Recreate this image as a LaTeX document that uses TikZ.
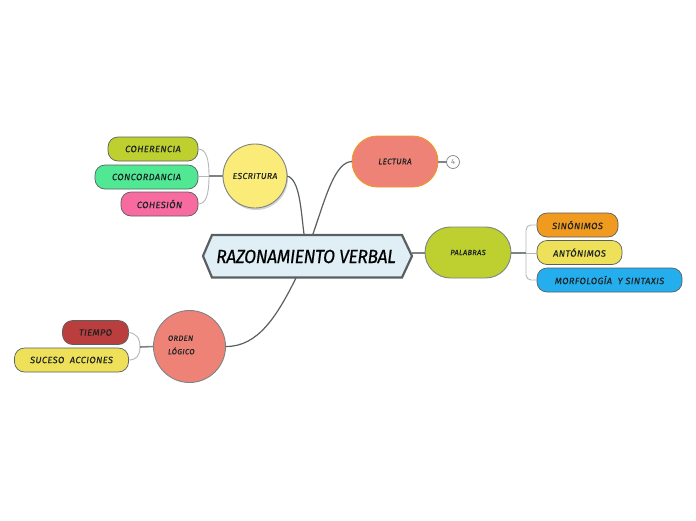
\documentclass[tikz,border=0pt]{standalone}
\usepackage{fontspec}
\setmainfont{Fira Sans}
\usetikzlibrary{shapes.misc,shadows,calc}
\definecolor{txt}{HTML}{1E2424}
\definecolor{edge}{HTML}{5A6060}
\definecolor{soft}{HTML}{B4B8B8}
\definecolor{mid}{HTML}{7E8484}
\definecolor{cyan}{HTML}{E0EEF5}
\definecolor{lime}{HTML}{BDD02F}
\definecolor{salmon}{HTML}{EE8277}
\definecolor{butter}{HTML}{FBEB78}
\definecolor{mustard}{HTML}{EFE05A}
\definecolor{mint}{HTML}{50E893}
\definecolor{rose}{HTML}{F76BA0}
\definecolor{amber}{HTML}{F09A20}
\definecolor{sky}{HTML}{25AEEE}
\definecolor{brick}{HTML}{BB3E3E}
\newcommand{\lab}[1]{{\itshape\addfontfeature{LetterSpace=4.5,FakeBold=0.3}#1}}
\tikzset{
  x=1pt,y=-1pt,
  every node/.style={text=txt,inner sep=0pt,outer sep=0pt},
  leafbox/.style={draw=edge,line width=.7pt,rounded corners=10pt,font=\fontsize{9.2}{11}\selectfont},
  mainpill/.style={rounded rectangle,draw=mid,line width=.9pt,font=\fontsize{8}{10}\selectfont},
  bubble/.style={circle,draw=mid,line width=.9pt},
  linkdark/.style={draw=edge,line width=1.2pt},
  linkthick/.style={draw=mid,line width=1.6pt},
  linksoft/.style={draw=soft,line width=.9pt},
}
\begin{document}
\begin{tikzpicture}
\useasboundingbox[fill=white] (0,0) rectangle (696,520);
\coordinate (escj) at (209,176);
\coordinate (ordj) at (140,347);
\coordinate (palj) at (526,253);
% central
\coordinate (hexW) at (203,256);
\coordinate (hexE) at (412,256);
\draw[draw=edge,line width=2.2pt,fill=cyan,line join=miter]
  (hexW) -- (212,235) -- (402,235) -- (hexE) -- (402,277.5) -- (212,277.5) -- cycle;
\node[font=\fontsize{19}{22}\selectfont\itshape\addfontfeature{LetterSpace=-2,FakeBold=0.5},text=black] (root) at (306,256.5) {\scalebox{0.92}[1]{RAZONAMIENTO VERBAL}};
\coordinate (rootA) at (304,234);
\coordinate (rootB) at (313,234);
\coordinate (rootC) at (296,278);
\coordinate (rootE) at (412,253);

% main topics
\node[bubble,fill=butter,minimum size=64pt,drop shadow={shadow xshift=1pt,shadow yshift=-2pt,opacity=.35},font=\fontsize{8.6}{11}\selectfont] (esc) at (255,176) {\lab{ESCRITURA}};
\node[mainpill,fill=salmon,draw=amber,minimum width=86pt,minimum height=51pt] (lec) at (395,161.5) {\lab{LECTURA}};
\node[mainpill,fill=lime,minimum width=86pt,minimum height=51pt,font=\fontsize{7.4}{10}\selectfont] (pal) at (468,252.5) {\lab{\addfontfeature{FakeBold=0.8}PALABRAS}\hspace{6pt}};
\node[bubble,fill=salmon,minimum size=72pt] (ord) at (189.5,346.5) {};
\node[anchor=north west,align=left,font=\fontsize{7.6}{13.5}\selectfont] (ordt) at (168,335.5) {\lab{ORDEN}\\\lab{LÓGICO}};
\node[circle,draw=mid,fill=white,line width=.7pt,minimum size=13pt,font=\fontsize{7.5}{8}\selectfont,text=mid] (bad) at (453,162) {4};

% leaves
\node[leafbox,fill=lime,minimum width=90pt,minimum height=24pt] (coh) at (153,149) {\lab{COHERENCIA}};
\node[leafbox,fill=mint,minimum width=103pt,minimum height=24pt] (con) at (146.5,177) {\lab{CONCORDANCIA}};
\node[leafbox,fill=rose,minimum width=77pt,minimum height=24pt] (csn) at (159.5,204) {\lab{COHESIÓN}};
\node[leafbox,fill=amber,minimum width=81pt,minimum height=24pt] (sin) at (577.5,225) {\lab{SINÓNIMOS}};
\node[leafbox,fill=mustard,minimum width=85pt,minimum height=24pt] (ant) at (579.5,252.5) {\lab{ANTÓNIMOS}};
\node[leafbox,fill=sky,minimum width=145pt,minimum height=24pt] (mor) at (609.5,280) {\lab{MORFOLOGÍA\ \ Y SINTAXIS}};
\node[leafbox,fill=brick,minimum width=66pt,minimum height=24pt] (tie) at (95.5,332.5) {\lab{TIEMPO}};
\node[leafbox,fill=mustard,minimum width=114pt,minimum height=24pt] (suc) at (71.5,360) {\lab{SUCESO\ \ ACCIONES}};

% main connectors
\draw[linkdark] (esc.east) .. controls (300,179) and (301,212) .. (rootA);
\draw[linkdark] (lec.west) .. controls (335,162) and (326,196) .. (rootB);
\draw[linkdark] (ord.east) .. controls (258,347) and (277,316) .. (rootC);
\draw[linkthick] (rootE) -- (pal.west |- rootE);
\draw[linkthick] (lec.east |- bad) -- (bad.west);

% branches
\draw[linksoft] (coh.east) .. controls (206,149) and (209,158) .. (escj);
\draw[linksoft] (csn.east) .. controls (206,204) and (209,195) .. (escj);
\draw[linksoft] (con.east |- esc) -- (escj);
\draw[linkthick] (escj) -- (esc.west);

\draw[linksoft,rounded corners=5pt] (sin.west) -| (palj);
\draw[linksoft,rounded corners=5pt] (mor.west) -| (palj);
\draw[linkthick] (pal.east |- palj) -- (palj);
\draw[linksoft] (palj) -- (ant.west |- palj);

\draw[linksoft] (tie.east) .. controls (136,333) and (140,338) .. (ordj);
\draw[linksoft] (suc.east) .. controls (136,360) and (140,356) .. (ordj);
\draw[linkthick] (ordj) -- (ord.west);
\end{tikzpicture}
\end{document}
